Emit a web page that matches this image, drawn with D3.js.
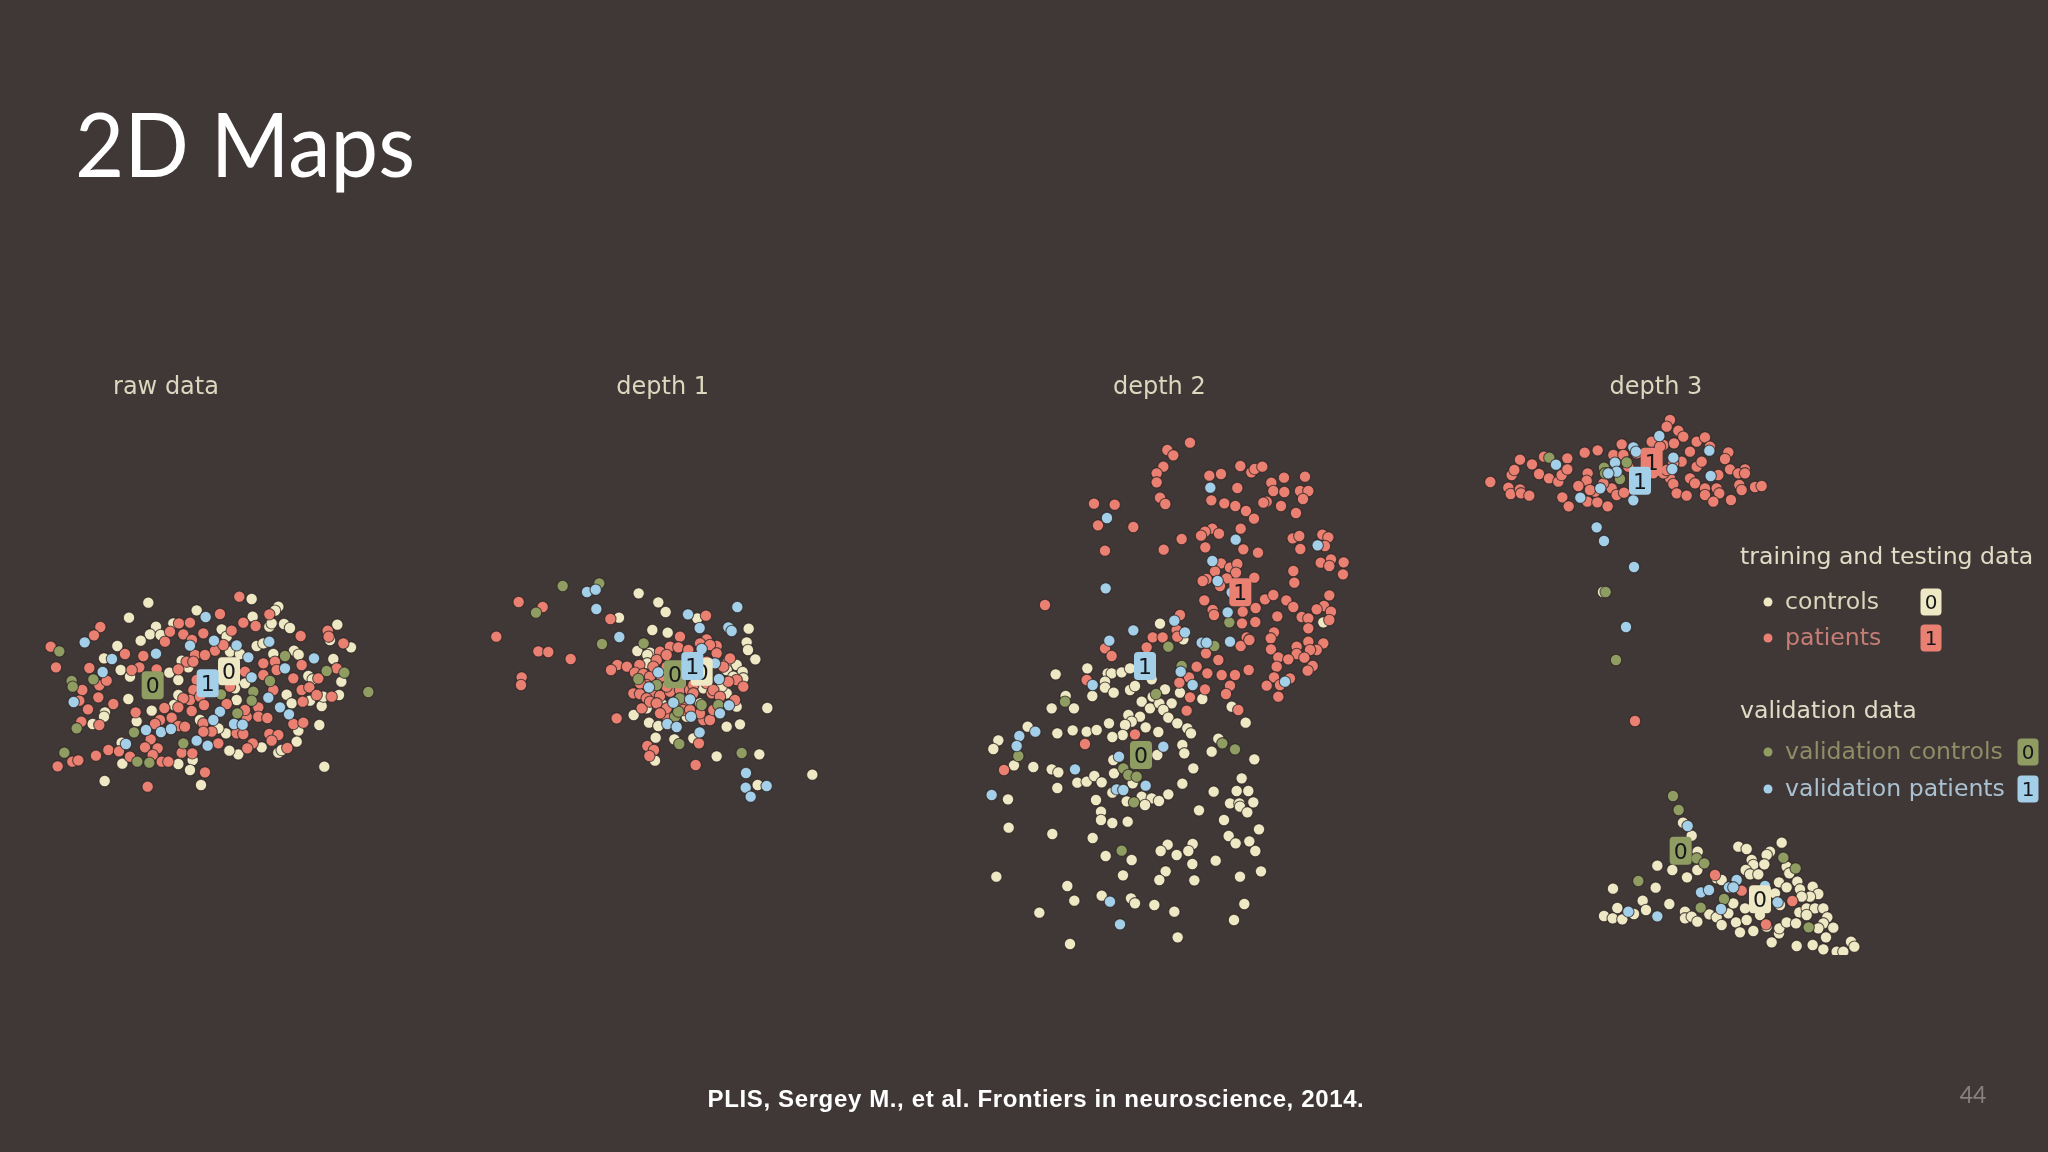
<!DOCTYPE html>
<html>
<head>
<meta charset="utf-8">
<script src="https://cdn.jsdelivr.net/npm/d3@7.9.0/dist/d3.min.js"></script>
<style>
  html, body { margin: 0; padding: 0; background: #403737; }
  svg { display: block; }
</style>
</head>
<body>
<svg id="chart" width="2048" height="1152"></svg>
<script>
// map coordinates (one unit is a third of a pixel)
const rawControls = [[355,68],[297,113],[665,57],[500,91],[745,80],[735,92],[668,110],[922,134],[762,132],[780,144],[900,180],[963,202],[378,140],[360,163],[332,182],[430,130],[392,165],[575,148],[590,170],[718,140],[725,130],[680,198],[700,190],[262,198],[222,235],[272,270],[300,290],[418,278],[455,242],[475,262],[445,300],[600,215],[630,222],[792,212],[806,224],[730,222],[910,237],[835,288],[848,298],[934,305],[295,357],[225,397],[222,410],[188,432],[365,392],[320,424],[432,375],[445,345],[620,360],[645,310],[615,325],[770,344],[785,370],[875,378],[880,350],[927,345],[840,362],[868,435],[805,452],[800,485],[883,560],[745,518],[755,510],[695,502],[625,523],[598,512],[588,460],[565,445],[510,420],[275,488],[277,551],[445,552],[488,540],[480,570],[513,615],[224,603]];
const rawPatients = [[628,50],[570,102],[718,103],[211,141],[192,166],[62,200],[78,262],[178,264],[285,222],[340,228],[447,130],[480,128],[520,160],[420,155],[460,163],[405,185],[640,128],[677,138],[605,152],[812,168],[893,152],[896,170],[940,190],[486,180],[495,225],[555,212],[580,195],[525,225],[470,245],[490,245],[328,262],[305,270],[380,268],[445,268],[500,300],[490,330],[480,360],[510,350],[460,355],[445,382],[485,393],[522,375],[590,372],[403,384],[317,397],[250,372],[174,388],[205,352],[157,330],[208,316],[230,302],[148,362],[154,425],[208,435],[390,420],[425,413],[375,432],[445,438],[465,440],[520,430],[545,455],[520,455],[620,460],[640,462],[650,410],[645,390],[685,382],[685,410],[712,414],[700,250],[735,245],[740,270],[700,285],[645,275],[790,295],[815,255],[730,330],[815,330],[838,322],[860,345],[905,350],[818,365],[865,295],[920,265],[790,432],[820,428],[718,462],[745,465],[725,482],[772,504],[668,490],[652,505],[565,490],[362,478],[345,502],[383,505],[368,525],[235,510],[267,514],[300,530],[198,527],[127,545],[145,541],[83,559],[395,545],[415,545],[455,518],[487,520],[525,577],[353,620],[600,320]];
const rawValControls = [[88,214],[125,303],[128,320],[190,298],[140,445],[103,518],[312,457],[322,545],[358,548],[460,490],[622,400],[670,335],[665,362],[720,303],[765,228],[890,273],[943,278],[1015,336],[573,343]];
const rawValPatients = [[164,187],[246,237],[218,276],[131,366],[378,221],[527,111],[480,197],[552,182],[620,196],[655,232],[718,185],[852,235],[765,265],[665,292],[715,353],[750,382],[777,403],[570,395],[550,420],[612,432],[638,434],[348,450],[393,456],[423,447],[288,492],[500,482],[533,497]];

const depth1Controls = [[476,70],[535,97],[557,126],[417,143],[652,145],[517,180],[563,188],[806,176],[800,217],[804,240],[826,268],[472,243],[510,248],[502,255],[502,280],[745,275],[770,285],[788,306],[790,325],[740,300],[760,320],[740,370],[725,350],[670,355],[545,402],[660,400],[770,410],[862,414],[461,435],[507,458],[535,468],[740,470],[780,463],[527,503],[583,508],[640,505],[525,572],[710,559],[838,553],[997,614],[833,645],[500,415],[620,440],[600,420]];
const depth1Patients = [[116,96],[188,111],[49,200],[175,244],[205,246],[272,267],[125,322],[123,345],[391,147],[678,137],[600,200],[570,230],[540,245],[595,232],[625,240],[680,208],[710,228],[660,220],[690,225],[412,285],[393,300],[441,290],[478,285],[465,308],[490,312],[510,320],[520,370],[460,370],[480,372],[500,385],[540,378],[570,365],[600,360],[630,360],[485,415],[510,395],[750,265],[770,330],[745,335],[790,350],[765,390],[695,370],[670,450],[690,450],[410,445],[502,528],[522,540],[508,558],[657,520],[647,585],[558,437],[610,400],[530,270],[560,255],[520,290],[545,320],[560,350],[600,335],[640,345],[680,340],[700,360],[500,345],[480,340],[530,400],[560,415],[640,370],[710,250],[730,290],[650,260],[680,275],[620,275],[590,310],[560,290],[720,380],[660,430],[700,420],[610,420],[540,430],[630,420]];
const depth1ValControls = [[248,48],[358,40],[168,128],[366,222],[491,220],[475,327],[530,345],[598,522],[585,440],[595,425],[715,405],[785,549],[665,405],[600,385]];
const depth1ValPatients = [[321,66],[347,59],[349,117],[418,201],[624,133],[659,174],[772,111],[745,172],[755,183],[665,237],[705,280],[717,327],[507,352],[535,307],[580,398],[630,388],[747,406],[720,430],[633,440],[562,462],[590,471],[659,487],[798,609],[797,653],[860,648],[812,680]];

const depth2UpperControls = [[330,581],[400,628],[820,577]];
const depth2UpperPatients = [[-15,525],[420,38],[352,60],[370,76],[340,110],[320,130],[320,157],[330,203],[346,222],[132,221],[194,224],[144,286],[250,291],[165,362],[395,327],[341,359],[478,137],[513,132],[571,108],[604,127],[614,117],[637,110],[562,174],[664,158],[702,143],[765,140],[670,183],[703,186],[484,211],[523,220],[556,228],[588,243],[612,266],[650,215],[640,218],[693,228],[738,249],[750,183],[775,183],[759,207],[572,296],[487,296],[465,305],[453,317],[507,311],[466,352],[580,358],[624,368],[728,325],[748,318],[751,357],[817,314],[835,322],[825,348],[812,398],[843,388],[838,408],[881,397],[879,433],[513,400],[540,413],[562,402],[558,428],[495,424],[530,445],[470,447],[458,453],[613,443],[730,423],[733,458],[510,468],[463,511],[488,540],[492,555],[578,545],[617,534],[645,508],[670,495],[709,511],[730,531],[838,496],[822,528],[800,538],[843,545],[838,570],[755,561],[775,565],[775,595],[682,559],[576,580],[616,576],[672,607],[662,625],[590,622],[600,628],[740,650],[775,635],[820,640],[800,660],[780,660],[740,672],[763,683],[788,708],[773,722],[720,745],[390,555],[380,600],[382,620],[308,622],[338,622]];
const depth2UpperValControls = [[538,577]];
const depth2UpperValPatients = [[481,173],[171,264],[557,329],[487,393],[503,453],[545,487],[167,475],[803,346],[533,547],[373,572],[405,607],[250,601]];

const depth2LowerControls = [[257,103],[352,85],[413,100],[425,100],[455,97],[480,85],[405,125],[405,143],[367,168],[431,158],[480,150],[495,138],[545,118],[287,168],[245,205],[312,205],[630,158],[585,148],[515,185],[540,205],[548,170],[568,190],[605,190],[580,210],[595,233],[697,177],[785,200],[827,248],[622,250],[652,265],[663,280],[475,225],[510,230],[485,245],[465,255],[527,262],[565,276],[417,250],[458,285],[427,291],[262,280],[308,271],[350,275],[380,270],[173,260],[85,301],[70,327],[132,376],[190,381],[245,388],[265,397],[637,315],[643,340],[725,335],[745,296],[853,358],[562,345],[430,360],[670,385],[432,400],[322,428],[350,425],[373,408],[395,427],[262,444],[637,431],[488,430],[731,455],[815,415],[800,453],[835,453],[427,458],[378,480],[470,484],[515,470],[545,475],[567,483],[595,463],[525,495],[780,490],[808,490],[850,487],[810,500],[832,517],[687,511],[762,540],[393,515],[393,540],[427,549],[473,545],[114,478],[116,563],[247,582],[368,594],[867,568],[776,588],[797,610],[838,604],[856,633],[593,614],[572,633],[668,612],[655,633],[620,645],[407,648],[485,660],[667,672],[737,662],[587,694],[459,706],[568,720],[673,721],[810,710],[873,694],[79,710],[292,738],[313,782],[395,767],[483,775],[495,790],[553,795],[613,815],[823,792],[792,840],[208,818],[623,892],[300,912]];
const depth2LowerPatients = [[405,25],[425,48],[530,22],[708,40],[745,60],[812,18],[838,0],[903,28],[925,52],[920,80],[955,58],[680,80],[712,100],[755,105],[795,105],[836,90],[657,112],[628,128],[912,112],[890,137],[780,137],[705,148],[660,172],[768,162],[925,170],[650,212],[805,210],[350,120],[495,283],[345,312],[102,390],[930,135]];
const depth2LowerValControls = [[595,20],[733,18],[635,78],[285,185],[145,348],[558,162],[757,310],[795,328],[460,385],[475,405],[500,410],[492,487],[455,632]];
const depth2LowerValPatients = [[418,2],[695,8],[710,8],[780,5],[368,135],[632,95],[668,135],[945,125],[148,288],[196,275],[140,318],[65,465],[315,388],[580,320],[447,350],[440,448],[460,450],[527,437],[420,785],[450,853]];

const depth3UpperPatients = [[61,216],[150,149],[125,195],[133,180],[115,233],[122,252],[150,238],[153,250],[178,257],[186,163],[207,192],[222,140],[237,205],[265,215],[275,195],[292,145],[292,178],[277,262],[296,289],[344,128],[383,121],[353,190],[350,212],[325,228],[352,275],[382,277],[413,289],[375,245],[425,235],[440,255],[462,248],[455,103],[430,135],[460,135],[475,170],[500,130],[545,95],[580,105],[600,30],[590,50],[625,62],[640,80],[680,95],[705,82],[660,125],[612,100],[635,155],[680,170],[695,155],[775,127],[765,147],[780,178],[825,178],[805,190],[825,190],[660,205],[675,220],[600,205],[610,222],[745,195],[705,235],[740,235],[748,250],[705,255],[730,275],[783,270],[620,250],[650,257],[808,225],[815,240],[855,231],[875,228],[580,190],[550,190],[530,150],[560,140],[610,160],[360,240],[400,220],[450,205],[570,110],[720,110],[590,180],[495,933]];
const depth3UpperControls = [[399,546]];
const depth3UpperValControls = [[238,143],[402,173],[405,190],[470,157],[450,207],[407,546],[438,750]];
const depth3UpperValPatients = [[258,164],[391,235],[331,263],[490,271],[380,352],[568,78],[490,112],[498,125],[435,158],[440,185],[415,190],[610,143],[607,177],[718,122],[722,198],[402,393],[492,471],[468,651]];

const depth3LowerControls = [[279,128],[305,167],[323,215],[202,257],[247,270],[322,270],[291,292],[197,323],[69,326],[158,362],[168,390],[238,372],[82,384],[42,408],[68,415],[97,418],[132,402],[285,395],[285,415],[305,410],[322,425],[358,403],[380,412],[395,435],[438,427],[450,457],[490,453],[470,420],[415,400],[430,370],[465,385],[445,200],[470,207],[575,188],[540,215],[530,225],[485,240],[490,255],[523,253],[467,270],[480,283],[505,283],[590,260],[598,280],[567,307],[590,322],[622,305],[630,328],[668,320],[685,342],[660,350],[635,350],[555,340],[520,330],[510,405],[570,375],[628,397],[650,385],[675,385],[700,385],[712,412],[700,430],[730,443],[708,472],[685,445],[668,495],[620,498],[545,487],[567,460],[568,445],[590,427],[618,430],[783,485],[793,500],[700,508],[740,515],[760,515],[650,405],[380,295],[395,300],[530,440]];
const depth3LowerPatients = [[375,285],[455,332],[607,363],[528,433]];
const depth3LowerValControls = [[249,48],[266,90],[145,303],[320,235],[343,250],[402,357],[332,383],[580,233],[617,265],[656,442]];
const depth3LowerValPatients = [[293,138],[333,337],[357,330],[440,300],[417,322],[430,322],[393,387],[563,367],[115,395],[202,409],[525,318]];

// label text, map x, map y, class
const rawLabels = [['0',368,316,'valControls'],['0',597,274,'controls'],['1',533,310,'valPatients']];
const depth1Labels = [['0',665,305,'controls'],['0',585,313,'valControls'],['1',637,288,'valPatients']];
const depth2UpperLabels = [['1',571,487,'patients']];
const depth2LowerLabels = [['1',525,78,'valPatients'],['0',513,345,'valControls']];
const depth3UpperLabels = [['1',545,155,'patients'],['1',510,212,'valPatients']];
const depth3LowerLabels = [['0',272,212,'valControls'],['0',510,358,'controls']];

const panelTitles = ['raw data', 'depth 1', 'depth 2', 'depth 3'];
const legendGroups = ['training and testing data', 'validation data'];
const legendEntries = ['controls', 'patients', 'validation controls', 'validation patients'];
const classNames = ['controls', 'patients', 'valControls', 'valPatients'];
const classDigits = ['0', '1', '0', '1'];

const colors = { controls: '#efe8c4', patients: '#e98072', valControls: '#8f9c62', valPatients: '#a4cfe8' };
const legendText = { controls: '#dcd6bc', patients: '#c47e76', valControls: '#8d8d66', valPatients: '#a9c1d0' };

const maps = [
  { origin: [30, 580],  w: 360, h: 230, controls: rawControls, patients: rawPatients, valControls: rawValControls, valPatients: rawValPatients, labels: rawLabels },
  { origin: [480, 570], w: 360, h: 240, controls: depth1Controls, patients: depth1Patients, valControls: depth1ValControls, valPatients: depth1ValPatients, labels: depth1Labels },
  { origin: [1050, 430], w: 320, h: 280, controls: depth2UpperControls, patients: depth2UpperPatients, valControls: depth2UpperValControls, valPatients: depth2UpperValPatients, labels: depth2UpperLabels },
  { origin: [970, 640], w: 320, h: 320, controls: depth2LowerControls, patients: depth2LowerPatients, valControls: depth2LowerValControls, valPatients: depth2LowerValPatients, labels: depth2LowerLabels },
  { origin: [1470, 410], w: 330, h: 120, controls: depth3UpperControls, patients: depth3UpperPatients, valControls: depth3UpperValControls, valPatients: depth3UpperValPatients, labels: depth3UpperLabels },
  { origin: [1590, 780], w: 290, h: 175, controls: depth3LowerControls, patients: depth3LowerPatients, valControls: depth3LowerValControls, valPatients: depth3LowerValPatients, labels: depth3LowerLabels, clip: true }
];

const figFont = '"DejaVu Sans", sans-serif';
const svg = d3.select('#chart');
svg.append('rect').attr('width', 2048).attr('height', 1152).attr('fill', '#403737');

const defs = svg.append('defs');
defs.append('filter').attr('id', 'soft').append('feGaussianBlur').attr('stdDeviation', 0.6);

const fig = svg.append('g').attr('filter', 'url(#soft)');

const drawLabel = (g, digit, cx, cy, cls, w, h, size) => {
  g.append('rect')
    .attr('x', cx - w / 2).attr('y', cy - h / 2)
    .attr('width', w).attr('height', h).attr('rx', 4)
    .attr('fill', colors[cls]);
  g.append('text')
    .attr('x', cx).attr('y', cy + size * 0.36)
    .attr('text-anchor', 'middle')
    .attr('font-family', figFont).attr('font-size', size)
    .attr('fill', '#14181c')
    .text(digit);
};

maps.forEach((m, i) => {
  const x = d3.scaleLinear().domain([0, m.w * 3]).range([m.origin[0], m.origin[0] + m.w]);
  const y = d3.scaleLinear().domain([0, m.h * 3]).range([m.origin[1], m.origin[1] + m.h]);
  const g = fig.append('g');
  if (m.clip) {
    defs.append('clipPath').attr('id', 'clip' + i).append('rect')
      .attr('x', m.origin[0]).attr('y', m.origin[1]).attr('width', m.w).attr('height', m.h);
    g.attr('clip-path', `url(#clip${i})`);
  }
  classNames.forEach(cls => {
    g.selectAll(null).data(m[cls]).join('circle')
      .attr('cx', d => x(d[0])).attr('cy', d => y(d[1]))
      .attr('r', 5.7)
      .attr('fill', colors[cls])
      .attr('stroke', '#2c2423').attr('stroke-opacity', 0.75).attr('stroke-width', 1.1);
  });
  m.labels.forEach(l => drawLabel(g, l[0], x(l[1]), y(l[2]), l[3], 22, 28, 22));
});

// panel titles
const titleX = d3.scalePoint().domain(panelTitles).range([166, 1656]);
fig.selectAll('.ptitle').data(panelTitles).join('text')
  .attr('class', 'ptitle')
  .attr('x', d => titleX(d)).attr('y', 394)
  .attr('text-anchor', 'middle')
  .attr('font-family', figFont).attr('font-size', 24)
  .attr('fill', '#ded7bf')
  .text(d => d);

// legend
const legend = fig.append('g').attr('font-family', figFont).attr('font-size', 23.6);
const groupY = d3.scaleOrdinal().domain(legendGroups).range([564, 718]);
legend.selectAll('.lgroup').data(legendGroups).join('text')
  .attr('class', 'lgroup')
  .attr('x', 1740).attr('y', d => groupY(d))
  .attr('fill', '#e2dbc5')
  .text(d => d);

const entryY = d3.scaleOrdinal().domain(legendEntries).range([600, 636, 750, 787]);
const swatchX = [1931, 1931, 2028, 2028];
legendEntries.forEach((name, i) => {
  const cls = classNames[i];
  const cy = entryY(name);
  legend.append('circle').attr('cx', 1768).attr('cy', cy + 2).attr('r', 4.5).attr('fill', colors[cls]);
  legend.append('text').attr('x', 1785).attr('y', cy + 9).attr('fill', legendText[cls]).text(name);
  drawLabel(legend, classDigits[i], swatchX[i], cy + 2, cls, 21, 27, 20);
});

// slide furniture
svg.append('text').attr('x', 75).attr('y', 177)
  .attr('font-family', 'Lato, sans-serif').attr('font-size', 90)
  .attr('textLength', 340).attr('lengthAdjust', 'spacingAndGlyphs')
  .attr('fill', '#ffffff').text('2D Maps');
svg.append('text').attr('x', 1036).attr('y', 1107)
  .attr('text-anchor', 'middle')
  .attr('font-family', '"Liberation Sans", sans-serif').attr('font-weight', 700).attr('font-size', 24)
  .attr('letter-spacing', 0.63)
  .attr('fill', '#ffffff').text('PLIS, Sergey M., et al. Frontiers in neuroscience, 2014.');
svg.append('text').attr('x', 1973).attr('y', 1103)
  .attr('text-anchor', 'middle')
  .attr('font-family', 'Lato, sans-serif').attr('font-size', 23)
  .attr('fill', '#878080').text('44');
</script>
</body>
</html>
